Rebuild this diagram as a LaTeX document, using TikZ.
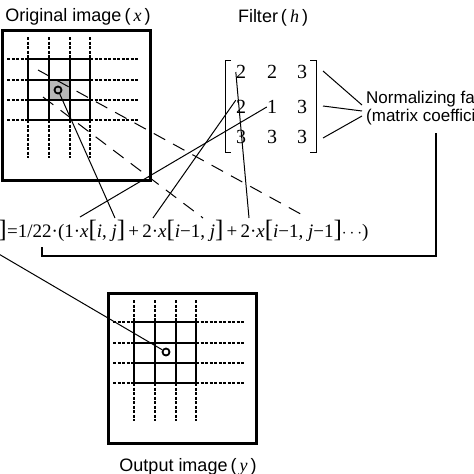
\documentclass[tikz,border=0pt]{standalone}
\usepackage{fontspec}
\setmainfont{Liberation Sans}
\newfontfamily\eqfont{Liberation Serif}
\newcommand\eqlb{{\fontsize{25}{25}\selectfont[}}
\newcommand\eqrb{{\fontsize{25}{25}\selectfont]}}
\newcommand\ix{\textit{x}}
\begin{document}
\begin{tikzpicture}[x=1pt,y=-1pt,
  frame/.style={line width=3pt},
  gsolid/.style={line width=2.2pt},
  gdash/.style={line width=2pt, dash pattern=on 3pt off 1.5pt},
  conn/.style={line width=1pt},
  dconn/.style={line width=1pt, dash pattern=on 13pt off 9pt},
  lbl/.style={font=\fontsize{18}{18}\selectfont, inner sep=0pt},
  ent/.style={font=\eqfont\fontsize{20}{20}\selectfont, inner sep=0pt},
  eqsty/.style={font=\eqfont\fontsize{19}{19}\selectfont, inner sep=0pt},
  pix/.style={circle, draw, line width=1.8pt, minimum size=7pt, inner sep=0pt},
  imgpic/.pic={
    \draw[frame] (0,0) rectangle (148,150);
    \foreach \v in {26,47,68,88}{
      \draw[gdash] (\v,7) -- (\v,29);
      \draw[gsolid] (\v,29) -- (\v,90);
      \draw[gdash] (\v,90) -- (\v,128);
    }
    \foreach \h in {29,50,70,90}{
      \draw[gdash] (5,\h) -- (26,\h);
      \draw[gsolid] (26,\h) -- (88,\h);
      \draw[gdash] (88,\h) -- (136,\h);
    }
  }
]
\useasboundingbox (0,0) rectangle (474,474);
\clip (0,0) rectangle (474,474);

% original image
\fill[gray!55] (48,80) rectangle (69,100);
\pic at (2,30) {imgpic};
\node[pix] (cx) at (58,90) {};
\node[lbl, anchor=base] (tx) at (78,21) {Original image\,(\,{\eqfont\itshape x}\,)};

% output image
\pic at (108,293) {imgpic};
\node[pix] (cy) at (166,352) {};
\node[lbl, anchor=base] (ty) at (188,471) {Output image\,(\,{\eqfont\itshape y}\,)};

% filter
\node[lbl, anchor=base] (th) at (273,22) {Filter\,(\,{\eqfont\itshape h}\,)};
\node[ent] (m11) at (241,72) {2};
\node[ent] (m12) at (272,72) {2};
\node[ent] (m13) at (302,72) {3};
\node[ent] (m21) at (241,107) {2};
\node[ent] (m22) at (272,107) {1};
\node[ent] (m23) at (302,107) {3};
\node[ent] (m31) at (241,137) {3};
\node[ent] (m32) at (272,137) {3};
\node[ent] (m33) at (302,137) {3};
\draw[line width=1pt] (231,60) -- (225,60) -- (225,152) -- (231,152);
\draw[line width=1pt] (310,60) -- (316,60) -- (316,152) -- (310,152);

% normalizing factor
\node[lbl, anchor=base west, font=\fontsize{17}{17}\selectfont] (nf1) at (366,103) {Normalizing factor};
\node[lbl, anchor=base west, font=\fontsize{17}{17}\selectfont] (nf2) at (366,121) {(matrix coefficient)};
\coordinate (r1) at (323,71);
\coordinate (r2) at (323,106);
\coordinate (r3) at (323,138);
\coordinate (q1) at (362,105);
\coordinate (q2) at (362,111);
\coordinate (q3) at (362,116);
\draw[conn] (r1) -- (q1);
\draw[conn] (r2) -- (q2);
\draw[conn] (r3) -- (q3);

% equation
\node[eqsty, anchor=base west] (eq) at (7,237) {=1/22·(1·\ix\eqlb\textit{i}, \textit{j}\eqrb\,+\,2·\ix\eqlb\textit{i}−1, \textit{j}\eqrb\,+\,2·\ix\eqlb\textit{i}−1, \textit{j}−1\eqrb$\cdots$)};
\node[eqsty, anchor=base east] (eqy) at (eq.base west) {\ix\eqlb\textit{i}, \textit{j}\eqrb};

% bracket from normalizing factor to 22
\coordinate (n0) at (436,133);
\coordinate (n1) at (436,256);
\coordinate (n2) at (42,256);
\coordinate (n3) at (42,247);
\draw[line width=1.3pt] (n0) -- (n1) -- (n2) -- (n3);

% connectors to terms
\coordinate (t0) at (80,217);
\coordinate (t1) at (115,218);
\coordinate (t2) at (153,218);
\coordinate (t3) at (249,218);
\coordinate (t4) at (203,218);
\coordinate (t5) at (308,218);
\coordinate (p1) at (38,70);
\coordinate (p2) at (43,97);
\draw[conn] (cx) -- (t1);
\draw[conn] (m22.west) -- (t0);
\draw[conn] (m21.north west) -- (t2);
\draw[conn] (m11.west) -- (t3);
\draw[dconn] (p2) -- (t4);
\draw[dconn] (p1) -- (t5);

% line to output
\coordinate (s0) at (-20,243);
\draw[conn] (s0) -- (cy);
\end{tikzpicture}
\end{document}
